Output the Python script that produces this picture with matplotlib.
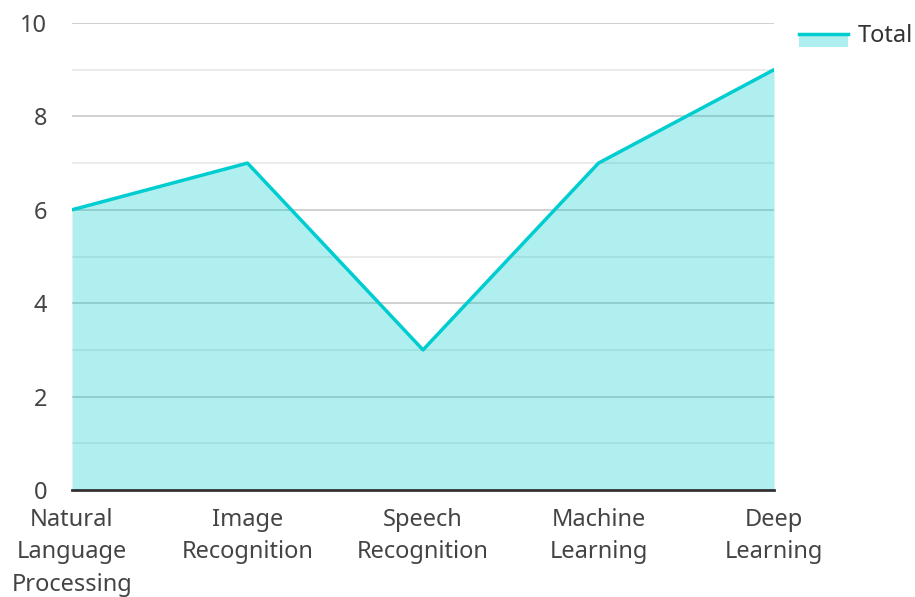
import matplotlib
matplotlib.use('Agg')
import matplotlib.pyplot as plt
from matplotlib.patches import Rectangle
from matplotlib.lines import Line2D

categories = ['Natural\nLanguage\nProcessing', 'Image\nRecognition', 'Speech\nRecognition',
              'Machine\nLearning', 'Deep\nLearning']
total = [6, 7, 3, 7, 9]
y_ticks = [0, 2, 4, 6, 8, 10]

plt.rcParams['font.family'] = ['Noto Sans', 'DejaVu Sans']

W, H = 915, 597
fig = plt.figure(figsize=(W / 100, H / 100), dpi=100)
ax = fig.add_axes([72 / W, 1 - 490 / H, (774 - 72) / W, (490 - 23) / H])

line_color = '#00cdd0'
x = list(range(len(categories)))
ax.fill_between(x, total, 0, color=line_color, alpha=0.31, zorder=3, linewidth=0)
ax.plot(x, total, color=line_color, linewidth=2.5, zorder=4)

ax.set_xlim(0, len(categories) - 1)
ax.set_ylim(0, 10)
ax.set_yticks(y_ticks)
ax.set_yticks([1, 3, 5, 7, 9], minor=True)
ax.grid(axis='y', which='major', color='#c8c8c8', linewidth=1.2, zorder=1)
ax.grid(axis='y', which='minor', color='#e8e8e8', linewidth=1.2, zorder=1)
ax.set_axisbelow(True)
ax.set_xticks(x)
ax.set_xticklabels(categories, linespacing=1.46)

for s in ['top', 'right', 'left']:
    ax.spines[s].set_visible(False)
ax.spines['bottom'].set_color('#333333')
ax.spines['bottom'].set_linewidth(2)
ax.spines['bottom'].set_zorder(5)

ax.tick_params(axis='both', which='both', length=0, labelsize=17, colors='#444444')
ax.tick_params(axis='y', pad=18)
ax.tick_params(axis='x', pad=13)

# legend: tinted box with the line on its top edge, then the label
fig.patches.append(Rectangle((799 / W, 1 - 47 / H), 49 / W, 14 / H, transform=fig.transFigure,
                             facecolor=line_color, alpha=0.31, edgecolor='none'))
fig.lines.append(Line2D([799 / W, 848 / W], [1 - 34 / H, 1 - 34 / H], transform=fig.transFigure,
                        color=line_color, linewidth=2.5))
fig.text(858 / W, 1 - 36 / H, 'Total', fontsize=17, color='#333333', va='center', ha='left')

plt.savefig('out.png', dpi=100)
